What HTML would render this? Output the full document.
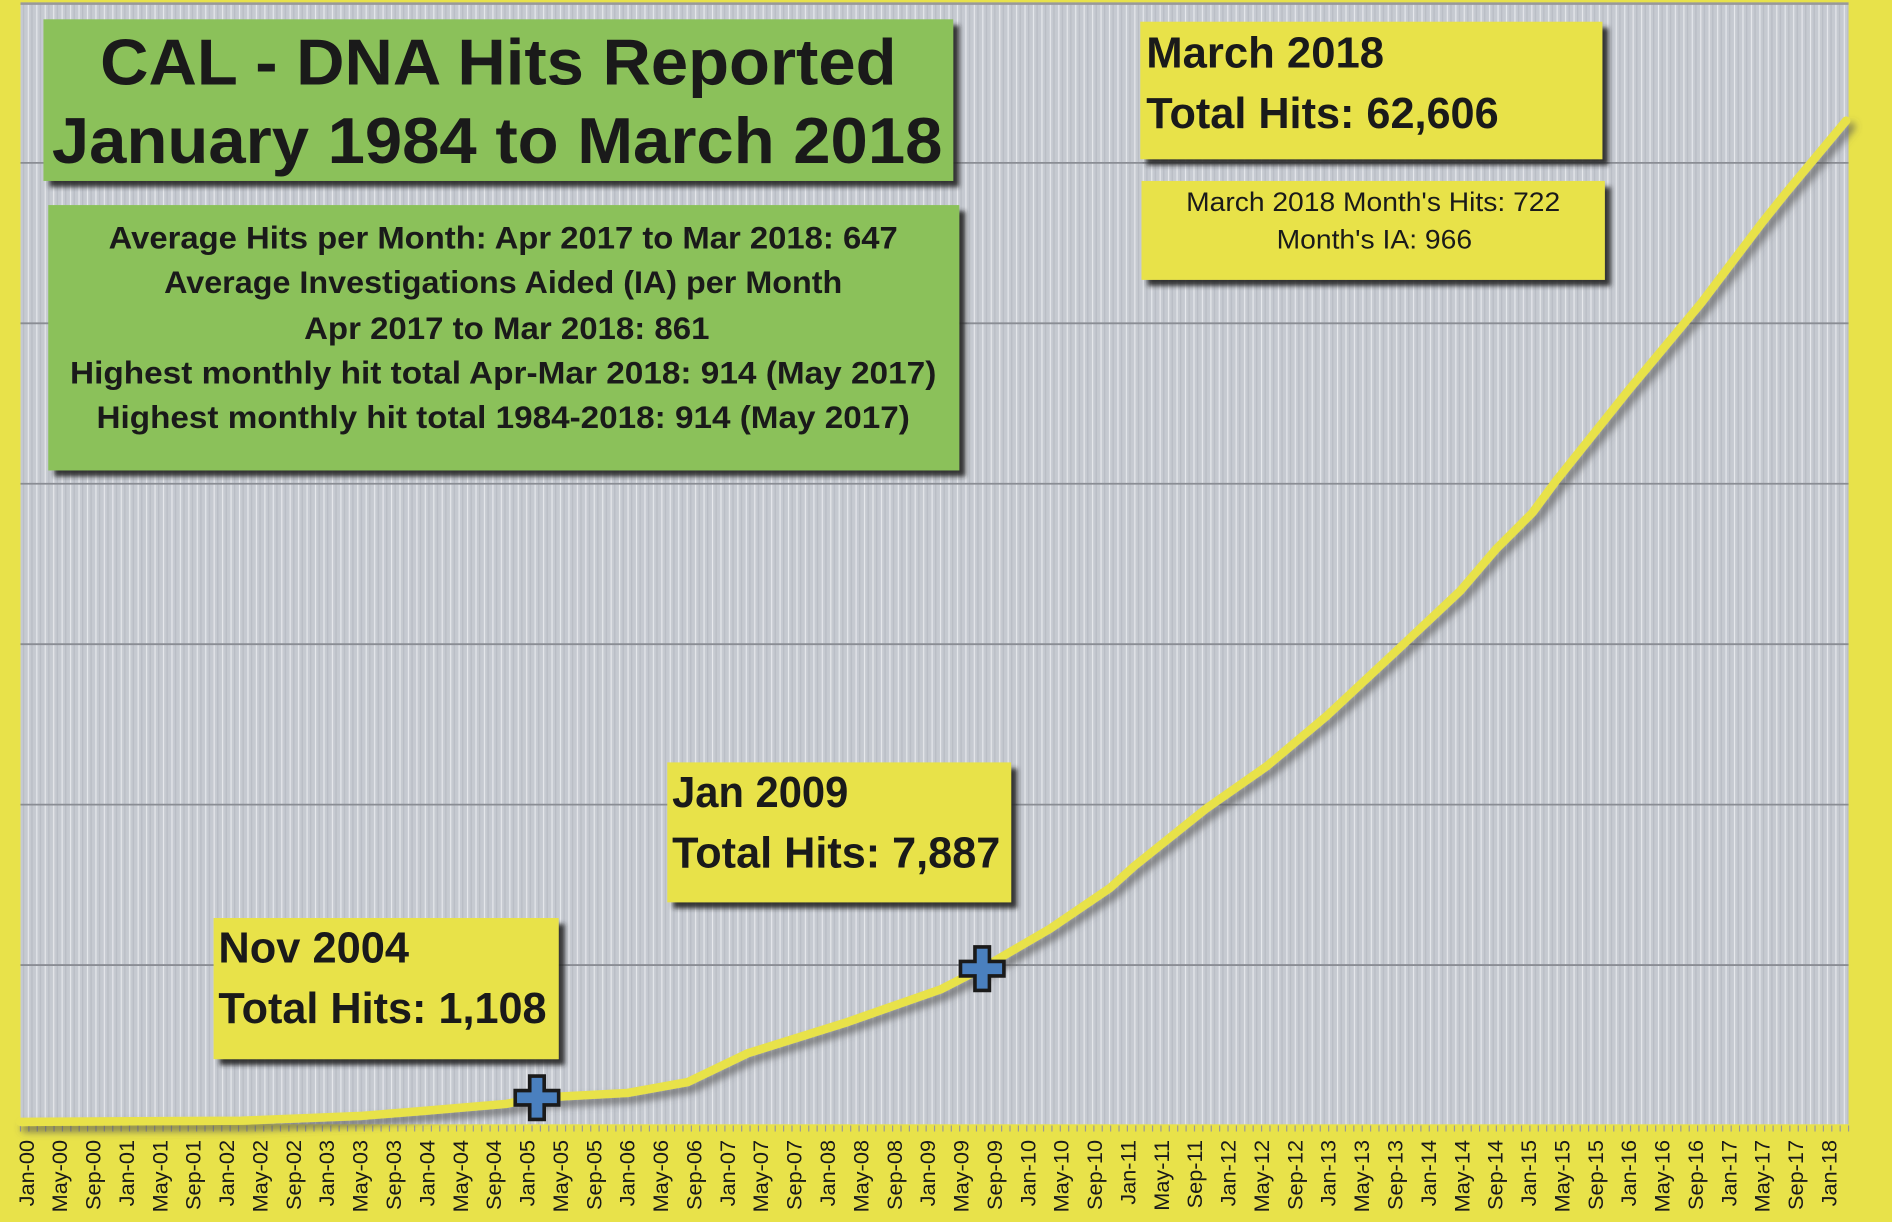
<!DOCTYPE html>
<html><head><meta charset="utf-8"><style>html,body{margin:0;padding:0;background:#e8e24a;}svg{display:block}</style></head>
<body>
<svg width="1892" height="1222" viewBox="0 0 1568 1013" xmlns="http://www.w3.org/2000/svg" preserveAspectRatio="none">
<defs>
<pattern id="st" width="7" height="10" patternUnits="userSpaceOnUse">
<rect width="7" height="10" fill="#c6cad1"/>
<rect x="2" width="1" height="10" fill="#e6e8ec"/>
<rect x="5" width="1" height="10" fill="#b8bcc4"/>
</pattern>
<filter id="sh" x="-10%" y="-10%" width="130%" height="140%"><feDropShadow dx="5" dy="5" stdDeviation="2" flood-color="#222" flood-opacity="0.9"/></filter>
<filter id="ls"><feDropShadow dx="4" dy="5" stdDeviation="3" flood-color="#555" flood-opacity="0.7"/></filter>
</defs>
<rect width="1568" height="1013" fill="#e8e24a"/>
<rect x="17" y="2" width="1515" height="930" fill="url(#st)"/>
<line x1="17" y1="3" x2="1532" y2="3" stroke="#999" stroke-width="2"/>
<g stroke="#8a8d94" stroke-width="1.5">
<line x1="17" y1="135" x2="1532" y2="135"/><line x1="17" y1="268" x2="1532" y2="268"/>
<line x1="17" y1="401" x2="1532" y2="401"/><line x1="17" y1="534" x2="1532" y2="534"/>
<line x1="17" y1="667" x2="1532" y2="667"/><line x1="17" y1="800" x2="1532" y2="800"/>
</g>
<g stroke="#999" stroke-width="1" id="ticks"></g>
<polyline filter="url(#ls)" fill="none" stroke="#e8e24a" stroke-width="7" stroke-linejoin="round" stroke-linecap="round"
points="17,930 200,929 300,925 350,921 420,915 445,910 520,906 570,897 620,873 700,848 780,820 815,802 870,770 920,736 940,718 1000,670 1050,635 1100,593 1160,537 1210,490 1240,455 1270,425 1290,398 1350,323 1410,251 1460,185 1480,160 1530,100"/>
<g filter="url(#sh)">
<rect x="36" y="16" width="754" height="134" fill="#8bc15a"/>
<rect x="40" y="170" width="755" height="220" fill="#8bc15a"/>
<rect x="945" y="18" width="383" height="114" fill="#e8e24a"/>
<rect x="946" y="150" width="384" height="82" fill="#e8e24a"/>
<rect x="553" y="632" width="285" height="116" fill="#e8e24a"/>
<rect x="177" y="761" width="286" height="117" fill="#e8e24a"/>
</g>
<g font-family="Liberation Sans, sans-serif" fill="#1a1a1a" font-weight="bold">
<text x="413" y="70" font-size="54" text-anchor="middle" textLength="660" lengthAdjust="spacingAndGlyphs">CAL - DNA Hits Reported</text>
<text x="412" y="135" font-size="54" text-anchor="middle" textLength="738" lengthAdjust="spacingAndGlyphs">January 1984 to March 2018</text>
<g font-size="26" text-anchor="middle">
<text x="417" y="206" textLength="654" lengthAdjust="spacingAndGlyphs">Average Hits per Month: Apr 2017 to Mar 2018: 647</text>
<text x="417" y="243" textLength="562" lengthAdjust="spacingAndGlyphs">Average Investigations Aided (IA) per Month</text>
<text x="420" y="281" textLength="336" lengthAdjust="spacingAndGlyphs">Apr 2017 to Mar 2018: 861</text>
<text x="417" y="318" textLength="718" lengthAdjust="spacingAndGlyphs">Highest monthly hit total Apr-Mar 2018: 914  (May 2017)</text>
<text x="417" y="355" textLength="674" lengthAdjust="spacingAndGlyphs">Highest monthly hit total 1984-2018: 914  (May 2017)</text>
</g>
<g font-size="36">
<text x="950" y="56" textLength="197" lengthAdjust="spacingAndGlyphs">March 2018</text>
<text x="950" y="106" textLength="292" lengthAdjust="spacingAndGlyphs">Total Hits: 62,606</text>
<text x="557" y="669" textLength="146" lengthAdjust="spacingAndGlyphs">Jan 2009</text>
<text x="557" y="719" textLength="272" lengthAdjust="spacingAndGlyphs">Total Hits: 7,887</text>
<text x="181" y="798" textLength="158" lengthAdjust="spacingAndGlyphs">Nov 2004</text>
<text x="181" y="848" textLength="272" lengthAdjust="spacingAndGlyphs">Total Hits: 1,108</text>
</g>
<g font-size="22" font-weight="normal" text-anchor="middle">
<text x="1138" y="175" textLength="310" lengthAdjust="spacingAndGlyphs">March 2018 Month's Hits: 722</text>
<text x="1139" y="206" textLength="162" lengthAdjust="spacingAndGlyphs">Month's IA: 966</text>
</g>
</g>
<g fill="#4a80bf" stroke="#1a1a1a" stroke-width="3">
<path d="M439,892 h12 v12 h12 v12 h-12 v12 h-12 v-12 h-12 v-12 h12 z"/>
<path d="M808,785 h12 v12 h12 v12 h-12 v12 h-12 v-12 h-12 v-12 h12 z"/>
</g>
<g id="lbl" font-family="Liberation Sans, sans-serif" font-size="18" fill="#1a1a1a"></g>
<script>
var m=["Jan","May","Sep"],g=document.getElementById("lbl"),t=document.getElementById("ticks"),ns="http://www.w3.org/2000/svg";
for(var i=0;i<55;i++){var x=22+i*(1516-22)/54;var y=Math.floor(i/3);
var e=document.createElementNS(ns,"text");e.setAttribute("transform","translate("+(x+6)+",945) rotate(-90)");e.setAttribute("text-anchor","end");
e.textContent=m[i%3]+"-"+(y<10?"0":"")+y;g.appendChild(e);}
for(var k=0;k<219;k++){var xx=17+k*1515/218;var l=document.createElementNS(ns,"line");l.setAttribute("x1",xx);l.setAttribute("x2",xx);l.setAttribute("y1",933);l.setAttribute("y2",938);t.appendChild(l);}
</script>
</svg>
</body></html>
